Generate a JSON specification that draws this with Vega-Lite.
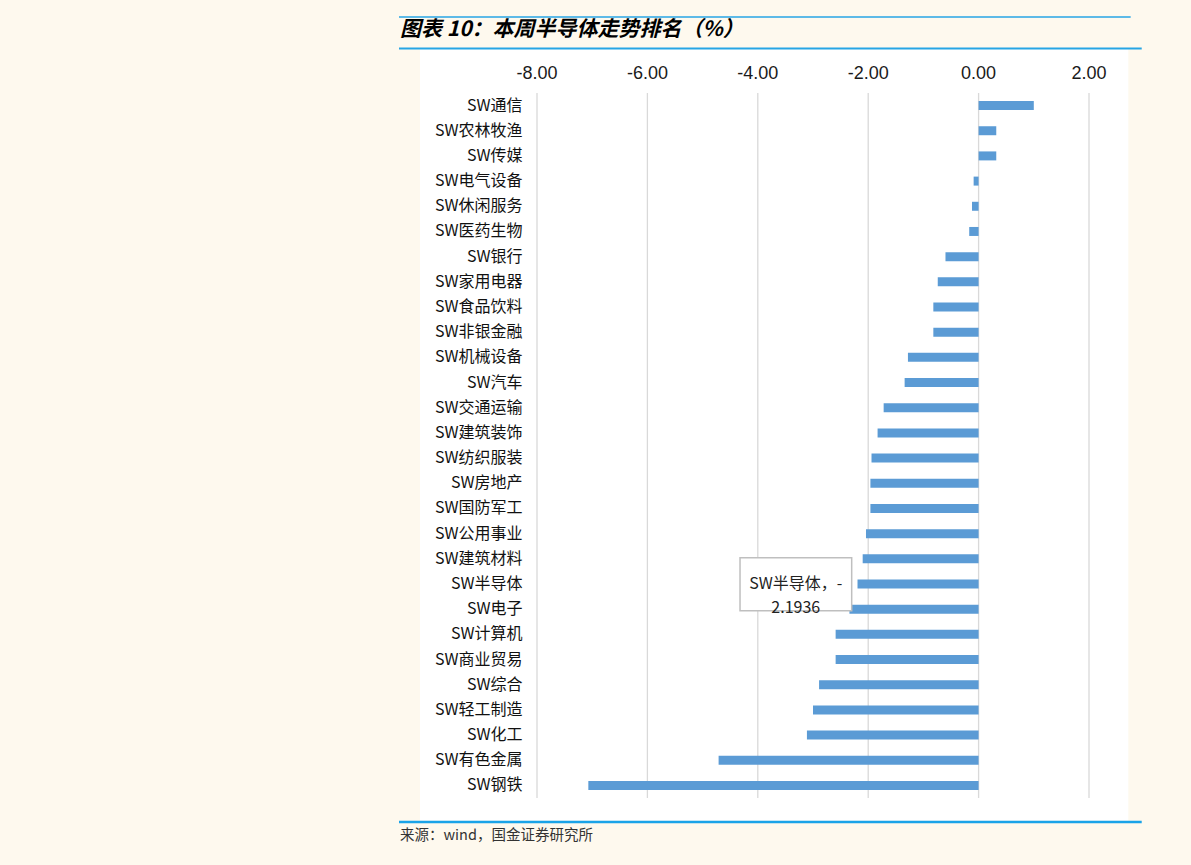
{
  "$schema": "https://vega.github.io/schema/vega-lite/v6.json",
  "width": 552,
  "height": 705,
  "autosize": "none",
  "padding": {"left": 537, "top": 93, "right": 102, "bottom": 67},
  "background": "#FEF9EE",
  "config": {
    "view": {"stroke": null},
    "font": "Noto Sans CJK SC",
    "locale": {
      "number": {"decimal": ".", "thousands": ",", "grouping": [3], "currency": ["", ""], "minus": "-"}
    }
  },
  "datasets": {
    "刻度表": [{"刻度": -8}, {"刻度": -6}, {"刻度": -4}, {"刻度": -2}, {"刻度": 0}, {"刻度": 2}]
  },
  "data": {
    "values": [
      {"行业": "SW通信", "涨跌幅": 1.00},
      {"行业": "SW农林牧渔", "涨跌幅": 0.32},
      {"行业": "SW传媒", "涨跌幅": 0.32},
      {"行业": "SW电气设备", "涨跌幅": -0.09},
      {"行业": "SW休闲服务", "涨跌幅": -0.12},
      {"行业": "SW医药生物", "涨跌幅": -0.17},
      {"行业": "SW银行", "涨跌幅": -0.60},
      {"行业": "SW家用电器", "涨跌幅": -0.74},
      {"行业": "SW食品饮料", "涨跌幅": -0.82},
      {"行业": "SW非银金融", "涨跌幅": -0.82},
      {"行业": "SW机械设备", "涨跌幅": -1.28},
      {"行业": "SW汽车", "涨跌幅": -1.34},
      {"行业": "SW交通运输", "涨跌幅": -1.72},
      {"行业": "SW建筑装饰", "涨跌幅": -1.83},
      {"行业": "SW纺织服装", "涨跌幅": -1.94},
      {"行业": "SW房地产", "涨跌幅": -1.96},
      {"行业": "SW国防军工", "涨跌幅": -1.96},
      {"行业": "SW公用事业", "涨跌幅": -2.04},
      {"行业": "SW建筑材料", "涨跌幅": -2.10},
      {"行业": "SW半导体", "涨跌幅": -2.1936},
      {"行业": "SW电子", "涨跌幅": -2.34},
      {"行业": "SW计算机", "涨跌幅": -2.59},
      {"行业": "SW商业贸易", "涨跌幅": -2.59},
      {"行业": "SW综合", "涨跌幅": -2.89},
      {"行业": "SW轻工制造", "涨跌幅": -3.00},
      {"行业": "SW化工", "涨跌幅": -3.11},
      {"行业": "SW有色金属", "涨跌幅": -4.71},
      {"行业": "SW钢铁", "涨跌幅": -7.07}
    ]
  },
  "layer": [
    {
      "data": {"values": [{}]},
      "mark": {"type": "rect", "fill": "#FFFFFF", "clip": false},
      "encoding": {
        "x": {"datum": -10.12, "scale": {"domain": [-8, 2], "nice": false}, "axis": null},
        "x2": {"datum": 2.712},
        "y": {"datum": 1.0624, "scale": {"domain": [0, 1], "nice": false}, "axis": null},
        "y2": {"datum": -0.0322}
      }
    },
    {
      "data": {"values": [{}]},
      "mark": {"type": "rule", "color": "#27A5E4", "strokeWidth": 1.5, "clip": false},
      "encoding": {
        "x": {"datum": -10.5, "scale": {"domain": [-8, 2], "nice": false}, "axis": null},
        "x2": {"datum": 2.755},
        "y": {"datum": 1.1078, "scale": {"domain": [0, 1], "nice": false}, "axis": null}
      }
    },
    {
      "data": {"values": [{}]},
      "mark": {"type": "rule", "color": "#27A5E4", "strokeWidth": 2, "clip": false},
      "encoding": {
        "x": {"datum": -10.5, "scale": {"domain": [-8, 2], "nice": false}, "axis": null},
        "x2": {"datum": 2.955},
        "y": {"datum": 1.0631, "scale": {"domain": [0, 1], "nice": false}, "axis": null}
      }
    },
    {
      "data": {"values": [{}]},
      "mark": {"type": "rule", "color": "#1AA3E8", "strokeWidth": 2.5, "clip": false},
      "encoding": {
        "x": {"datum": -10.5, "scale": {"domain": [-8, 2], "nice": false}, "axis": null},
        "x2": {"datum": 2.955},
        "y": {"datum": -0.034, "scale": {"domain": [0, 1], "nice": false}, "axis": null}
      }
    },
    {
      "data": {"values": [{}]},
      "mark": {"type": "text", "text": "图表 10：本周半导体走势排名（%）", "align": "left", "baseline": "middle", "fontSize": 21, "fontWeight": "bold", "fontStyle": "italic", "fill": "#000000", "clip": false},
      "encoding": {
        "x": {"datum": -10.482, "scale": {"domain": [-8, 2], "nice": false}, "axis": null},
        "y": {"datum": 1.0894, "scale": {"domain": [0, 1], "nice": false}, "axis": null}
      }
    },
    {
      "data": {"values": [{}]},
      "mark": {"type": "text", "text": "来源：wind，国金证券研究所", "align": "left", "baseline": "middle", "fontSize": 14.5, "fontWeight": "normal", "fill": "#333333", "clip": false},
      "encoding": {
        "x": {"datum": -10.482, "scale": {"domain": [-8, 2], "nice": false}, "axis": null},
        "y": {"datum": -0.0539, "scale": {"domain": [0, 1], "nice": false}, "axis": null}
      }
    },
    {
      "data": {"name": "刻度表"},
      "mark": {"type": "rule", "color": "#D9D9D9", "strokeWidth": 1.3},
      "encoding": {
        "x": {"field": "刻度", "type": "quantitative", "scale": {"domain": [-8, 2], "nice": false}, "axis": null}
      }
    },
    {
      "data": {"name": "刻度表"},
      "mark": {"type": "text", "align": "center", "baseline": "alphabetic", "font": "Liberation Sans", "fontSize": 18, "fontWeight": "normal", "fill": "#1A1A1A", "clip": false},
      "encoding": {
        "x": {"field": "刻度", "type": "quantitative", "scale": {"domain": [-8, 2], "nice": false}, "axis": null},
        "y": {"datum": 1.0194, "scale": {"domain": [0, 1], "nice": false}, "axis": null},
        "text": {"field": "刻度", "type": "quantitative", "format": ".2f"}
      }
    },
    {
      "mark": {"type": "bar", "color": "#5B9BD5", "clip": false},
      "encoding": {
        "y": {
          "field": "行业",
          "type": "nominal",
          "sort": null,
          "scale": {"paddingInner": 0.643, "paddingOuter": 0.32},
          "axis": {
            "title": null,
            "domain": false,
            "ticks": false,
            "grid": false,
            "zindex": 2,
            "labelPadding": 15,
            "labelFontSize": 16,
            "labelFontWeight": "normal",
            "labelColor": "#111111",
            "labelFont": "Noto Sans CJK SC"
          }
        },
        "x": {
          "field": "涨跌幅",
          "type": "quantitative",
          "scale": {"domain": [-8, 2], "nice": false, "zero": false},
          "axis": null
        }
      }
    },
    {
      "data": {"values": [{}]},
      "mark": {"type": "rect", "fill": "#FFFFFF", "stroke": "#BFBFBF", "strokeWidth": 1.5, "clip": false},
      "encoding": {
        "x": {"datum": -4.322, "scale": {"domain": [-8, 2], "nice": false}, "axis": null},
        "x2": {"datum": -2.299},
        "y": {"datum": 0.3408, "scale": {"domain": [0, 1], "nice": false}, "axis": null},
        "y2": {"datum": 0.2657}
      }
    },
    {
      "data": {"values": [{}]},
      "mark": {"type": "text", "text": "SW半导体，-\n2.1936", "lineBreak": "\n", "lineHeight": 24, "align": "center", "baseline": "middle", "fontSize": 16, "fontWeight": "normal", "fill": "#222222", "clip": false},
      "encoding": {
        "x": {"datum": -3.312, "scale": {"domain": [-8, 2], "nice": false}, "axis": null},
        "y": {"datum": 0.3033, "scale": {"domain": [0, 1], "nice": false}, "axis": null}
      }
    }
  ],
  "resolve": {"scale": {"y": "independent"}}
}
